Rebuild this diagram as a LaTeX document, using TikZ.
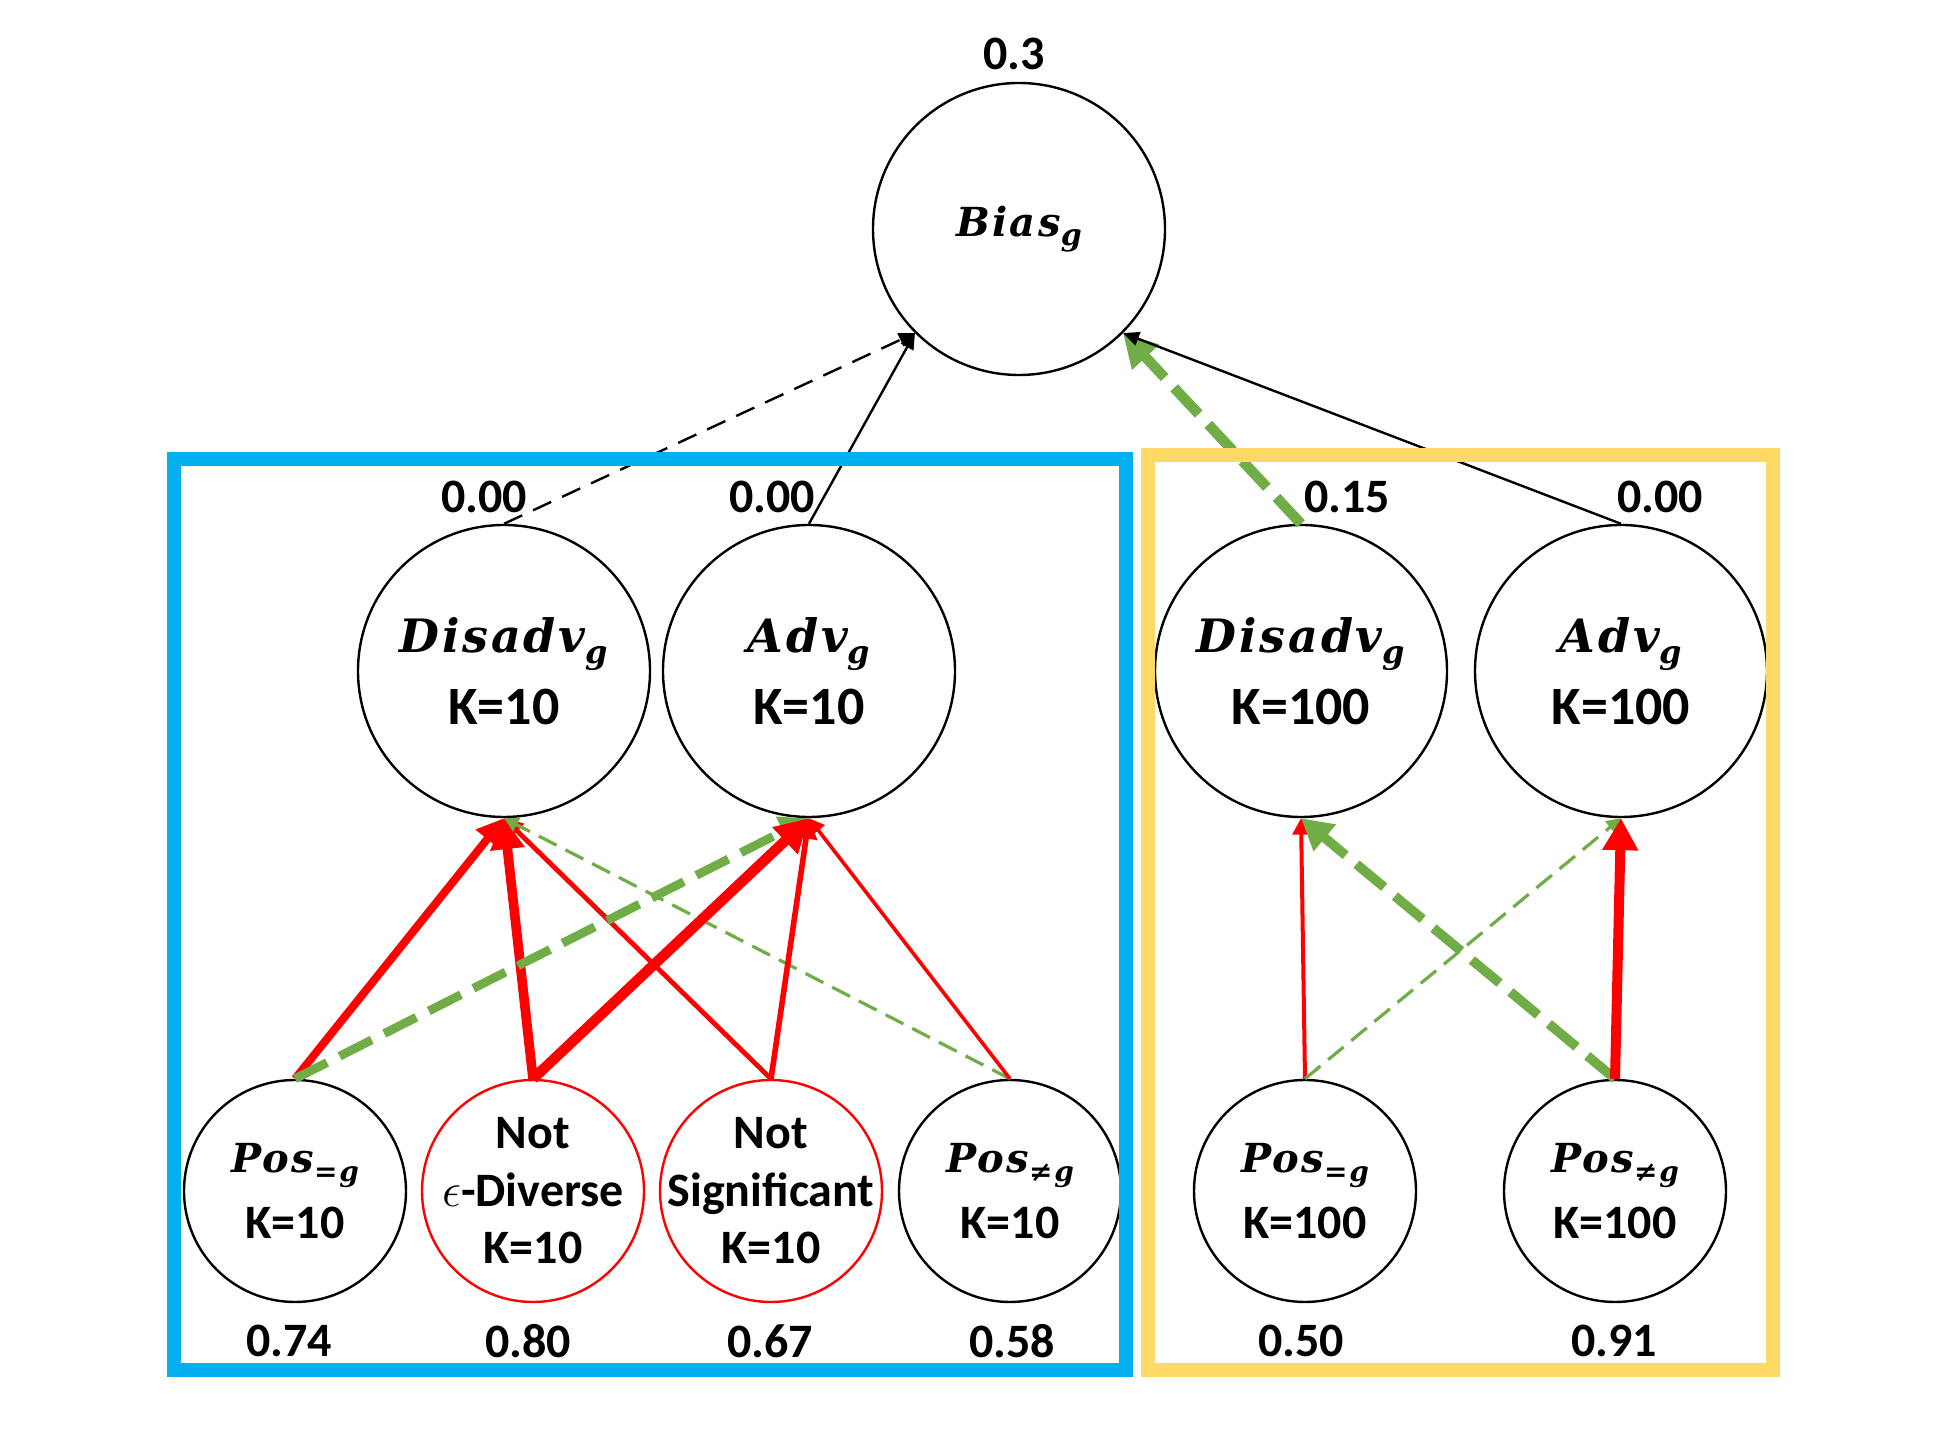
\documentclass[tikz,border=0pt]{standalone}
\usepackage{fontspec}
\setmainfont{Carlito}
\newfontfamily\varfont{DejaVu Serif}[LetterSpace=6]
\usetikzlibrary{arrows.meta}

\definecolor{myred}{RGB}{255,0,0}
\definecolor{mygreen}{RGB}{112,173,71}
\definecolor{myblue}{RGB}{0,176,240}
\definecolor{myyellow}{RGB}{255,217,102}

% variable name with subscript: main size, sub size, name, subscript
\newcommand{\vname}[4]{{\varfont\bfseries\itshape\fontsize{#1}{#1}\selectfont #3\raisebox{-0.45ex}{\fontsize{#2}{#2}\selectfont #4}}}

\begin{document}
\begin{tikzpicture}[x=0.25pt,y=-0.25pt,
    bignode/.style={circle, draw, line width=0.6pt, minimum size=73pt, inner sep=0pt,
        align=center, font=\bfseries\fontsize{13.5}{16.5}\selectfont},
    smallnode/.style={circle, draw, line width=0.6pt, minimum size=55.5pt, inner sep=-12pt,
        align=center, font=\bfseries\fontsize{12}{14.4}\selectfont},
    val/.style={font=\bfseries\fontsize{12}{14}\selectfont},
    redarr/.style={myred, line width=#1, -{Triangle[length=1.5pt 2.6, width=1.5pt 2.8]}},
    greenarr/.style={mygreen, line width=#1, -{Triangle[length=1.5pt 2.6, width=1.5pt 2.8]}},
    thindash/.style={dash pattern=on 5pt off 2.5pt},
    thickdash/.style={dash pattern=on 9pt off 3.5pt},
    blackarr/.style={black, line width=0.6pt, -{Triangle[length=4pt, width=3.5pt]}}]
\useasboundingbox (0,0) rectangle (1960,1452);

% top
\node[bignode] (bias) at (1019,229) {\raisebox{-2pt}{\vname{10pt}{7.5pt}{Bias}{g}}};
\node[val] (vbias) at (1014,54) {0.3};

% middle row
\node[bignode] (dis10) at (504,671) {\vname{11.5pt}{8pt}{Disadv}{g}\\[1.5pt]K=10};
\node[bignode] (adv10) at (809,671) {\vname{11.5pt}{8pt}{Adv}{g}\\[1.5pt]K=10};
\node[bignode] (dis100) at (1301,671) {\vname{11.5pt}{8pt}{Disadv}{g}\\[1.5pt]K=100};
\node[bignode] (adv100) at (1621,671) {\vname{11.5pt}{8pt}{Adv}{g}\\[1.5pt]K=100};
\node[val] (vdis10) at (484,497) {0.00};
\node[val] (vadv10) at (772,497) {0.00};
\node[val] (vdis100) at (1347,497) {0.15};
\node[val] (vadv100) at (1660,497) {0.00};

% bottom row
\node[smallnode] (peq10) at (295,1191) {\vname{10pt}{7pt}{Pos}{=g}\\[2pt]K=10};
\node[smallnode, draw=myred] (ndiv) at (533,1191) {Not\\$\epsilon$-Diverse\\K=10};
\node[smallnode, draw=myred] (nsig) at (771,1191) {Not\\Significant\\K=10};
\node[smallnode] (pne10) at (1010,1191) {\vname{10pt}{7pt}{Pos}{≠g}\\[2pt]K=10};
\node[smallnode] (peq100) at (1305,1191) {\vname{10pt}{7pt}{Pos}{=g}\\[2pt]K=100};
\node[smallnode] (pne100) at (1615,1191) {\vname{10pt}{7pt}{Pos}{≠g}\\[2pt]K=100};
\node[val] (vpeq10) at (289,1341) {0.74};
\node[val] (vndiv) at (528,1341) {0.80};
\node[val] (vnsig) at (770,1341) {0.67};
\node[val] (vpne10) at (1012,1341) {0.58};
\node[val] (vpeq100) at (1301,1341) {0.50};
\node[val] (vpne100) at (1614,1341) {0.91};

% K=10 edges
\draw[redarr=2pt] (peq10.north) -- (dis10.south);
\draw[redarr=2.4pt] (ndiv.north) -- (dis10.south);
\draw[redarr=1.2pt] (nsig.north) -- (dis10.south);
\draw[greenarr=0.8pt, thindash] (pne10.north) -- (dis10.south);
\draw[greenarr=2.2pt, thickdash] (peq10.north) -- (adv10.south);
\draw[redarr=2.6pt] (ndiv.north) -- (adv10.south);
\draw[redarr=1.4pt] (nsig.north) -- (adv10.south);
\draw[redarr=0.9pt] (pne10.north) -- (adv10.south);

% K=100 edges
\draw[redarr=1pt] (peq100.north) -- (dis100.south);
\draw[greenarr=0.8pt, thindash] (peq100.north) -- (adv100.south);
\draw[greenarr=2.4pt, thickdash] (pne100.north) -- (dis100.south);
\draw[redarr=2.5pt] (pne100.north) -- (adv100.south);

% to bias
\draw[blackarr, dash pattern=on 5pt off 3pt] (dis10.north) -- (bias.south west);
\draw[blackarr] (adv10.north) -- (bias.south west);
\draw[greenarr=2.6pt, thickdash] (dis100.north) -- (bias.south east);
\draw[blackarr] (adv100.north) -- (bias.south east);

% groups
\draw[myblue, line width=3.5pt] (174,459) rectangle (1126,1370);
\draw[myyellow, line width=3.5pt] (1148,455) rectangle (1773,1370);
\end{tikzpicture}
\end{document}
